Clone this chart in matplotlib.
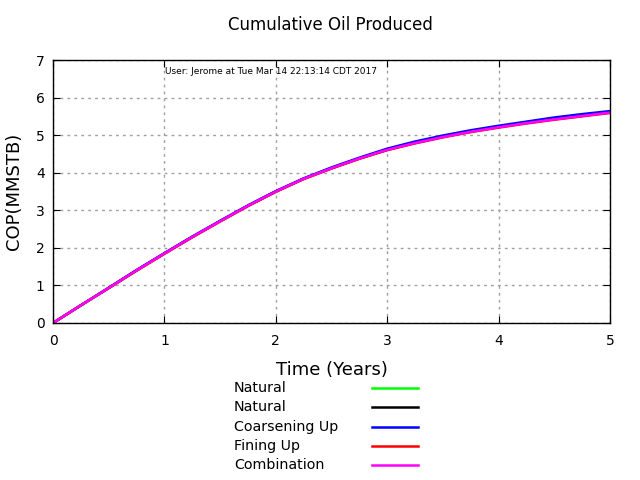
import numpy as np
import matplotlib.pyplot as plt
from matplotlib.lines import Line2D

plt.rcParams['font.family'] = ['DejaVu Sans']

# time in years
time = [0, 0.25, 0.5, 0.75, 1.0, 1.25, 1.5, 1.75, 2.0, 2.25, 2.5, 2.75,
        3.0, 3.25, 3.5, 3.75, 4.0, 4.25, 4.5, 4.75, 5.0]

# cumulative oil produced (MMSTB)
natural_1 = [0, 0.47, 0.93, 1.40, 1.85, 2.29, 2.71, 3.12, 3.50, 3.84, 4.12,
             4.38, 4.61, 4.80, 4.96, 5.10, 5.22, 5.33, 5.43, 5.52, 5.61]
natural_2 = [0, 0.47, 0.93, 1.40, 1.85, 2.29, 2.71, 3.12, 3.50, 3.84, 4.12,
             4.38, 4.61, 4.80, 4.96, 5.10, 5.22, 5.33, 5.43, 5.52, 5.61]
coarsening_up = [0, 0.47, 0.94, 1.41, 1.86, 2.30, 2.72, 3.13, 3.51, 3.85, 4.14,
                 4.40, 4.64, 4.83, 4.99, 5.13, 5.25, 5.36, 5.47, 5.56, 5.64]
fining_up = [0, 0.47, 0.93, 1.39, 1.84, 2.28, 2.70, 3.11, 3.49, 3.83, 4.11,
             4.37, 4.60, 4.78, 4.94, 5.08, 5.20, 5.31, 5.41, 5.50, 5.59]
combination = [0, 0.47, 0.93, 1.40, 1.85, 2.29, 2.71, 3.12, 3.50, 3.84, 4.12,
               4.38, 4.61, 4.79, 4.95, 5.09, 5.21, 5.32, 5.42, 5.51, 5.60]

labels = ["Natural", "Natural", "Coarsening Up", "Fining Up", "Combination"]
series = [natural_1, natural_2, coarsening_up, fining_up, combination]
colors = ["#00ff00", "#000000", "#0000ff", "#ff0000", "#ff00ff"]

fig = plt.figure(figsize=(6.4, 4.8), dpi=100)
ax = fig.add_axes([53 / 640, 1 - 323 / 480, 557 / 640, 263 / 480])

for y, c in zip(series, colors):
    ax.plot(time, y, color=c, linewidth=1.8)

ax.set_xlim(0, 5)
ax.set_ylim(0, 7)
ax.set_xticks(range(0, 6))
ax.set_yticks(range(0, 8))
ax.grid(True, color="#a0a0a0", linestyle=(0, (2, 3)), linewidth=1)
ax.tick_params(direction="in", top=True, right=True, length=5, labelsize=10)
ax.tick_params(axis="x", pad=8)
ax.tick_params(axis="y", pad=6)
for s in ax.spines.values():
    s.set_linewidth(1)

ax.set_xlabel("Time (Years)", fontsize=13, labelpad=9)
ax.set_ylabel("COP(MMSTB)", fontsize=13, labelpad=9)
fig.text(0.516, 1 - 25 / 480, "Cumulative Oil Produced", ha="center",
         va="center", fontsize=12)
ax.text(165 / 640 * 640 / 557 - 53 / 557, 1 - (72 - 60) / 263,
        "User: Jerome at Tue Mar 14 22:13:14 CDT 2017",
        transform=ax.transAxes, fontsize=6.5, va="center", ha="left")

# legend below the axes
for i, (lab, c) in enumerate(zip(labels, colors)):
    yy = 1 - (388 + i * 19.3) / 480
    fig.text(234 / 640, yy, lab, fontsize=10.3, va="center", ha="left")
    fig.add_artist(Line2D([372 / 640, 418 / 640], [yy, yy], color=c,
                          linewidth=1.8, transform=fig.transFigure))

fig.savefig("out.png", dpi=100)
